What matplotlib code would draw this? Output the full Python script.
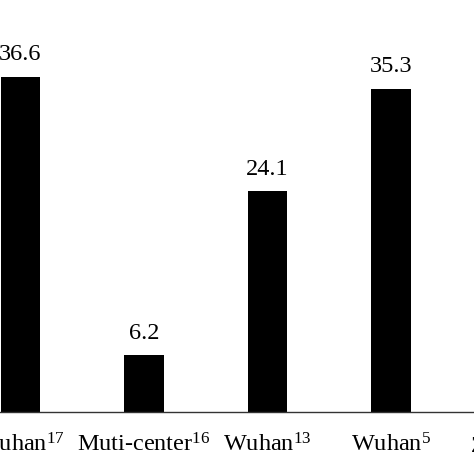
import numpy as np
import matplotlib.pyplot as plt

plt.rcParams['font.family'] = ['Liberation Serif', 'DejaVu Serif']
plt.rcParams['mathtext.fontset'] = 'custom'
plt.rcParams['mathtext.rm'] = 'Liberation Serif'
plt.rcParams['mathtext.it'] = 'Liberation Serif:italic'

# Data (chart is cropped: first bar partly cut, fifth category only partly visible)
labels = ['Wuhan$^{17}$', 'Muti-center$^{16}$', 'Wuhan$^{13}$', 'Wuhan$^{5}$', 'Zhejiang']
values = [36.6, 6.2, 24.1, 35.3]

x = np.arange(len(labels))

fig = plt.figure(figsize=(4.74, 4.74), dpi=100)
ax = fig.add_axes([0, 62 / 474, 1, 412 / 474])

ax.bar(x[:len(values)], values, width=0.32, color='black')
for xi, v in zip(x, values):
    ax.annotate(f'{v:.1f}', (xi, v), xytext=(0, 12), textcoords='offset points',
                ha='center', va='baseline', fontsize=17.5)

# category labels drawn as text so the partly visible last one shows too
for xi, lab in zip(x, labels):
    ax.annotate(lab, (xi, 0), xytext=(0, -28.5), textcoords='offset points',
                ha='center', va='baseline', fontsize=17.5, annotation_clip=False)

ax.set_xticks([])
ax.set_yticks([])
ax.set_xlim(-0.166, 3.672)
ax.set_ylim(0, 45.0)
for s in ['top', 'right', 'left']:
    ax.spines[s].set_visible(False)
ax.spines['bottom'].set_color('#333333')
ax.spines['bottom'].set_linewidth(1.0)

fig.savefig('out.png', dpi=100)
